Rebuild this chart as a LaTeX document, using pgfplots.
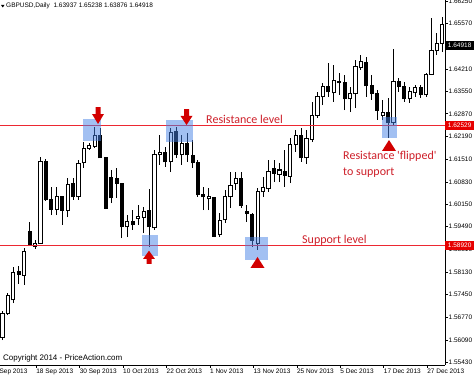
\documentclass[border=0pt]{standalone}
\usepackage{pgfplots}
\pgfplotsset{compat=1.18}
\usepackage{pgfplotstable}
\usepackage{fontspec}
\setmainfont{Liberation Sans}
\newfontfamily\annot{Carlito}
\definecolor{lvlred}{RGB}{236,40,50}
\definecolor{ann}{RGB}{205,30,40}
\definecolor{arr}{RGB}{210,0,0}
\definecolor{boxblue}{RGB}{70,130,230}
\definecolor{pricered}{RGB}{230,0,0}

% bullish candles: k open high low close
\pgfplotstableread{
k o h l c
0 1.56180 1.56959 1.56090 1.56899
1 1.56899 1.57499 1.56839 1.57409
2 1.57289 1.58278 1.57199 1.58128
4 1.58038 1.58847 1.57739 1.58728
6 1.58907 1.59087 1.58818 1.58997
7 1.58997 1.61575 1.58967 1.61425
10 1.60016 1.60676 1.59836 1.60376
12 1.59986 1.60945 1.59776 1.60765
14 1.60376 1.61485 1.60286 1.61365
15 1.61395 1.62024 1.61245 1.61844
16 1.61844 1.61994 1.61785 1.61934
17 1.61904 1.62474 1.61844 1.62204
23 1.59477 1.59836 1.59177 1.59627
25 1.59717 1.60136 1.59537 1.59806
26 1.59776 1.60076 1.59297 1.59956
28 1.59447 1.61785 1.59387 1.61635
29 1.61635 1.62234 1.61335 1.61695
31 1.61425 1.62444 1.61125 1.62294
33 1.61635 1.62234 1.61335 1.61994
38 1.60316 1.60646 1.59986 1.60376
40 1.59237 1.59896 1.59177 1.59657
41 1.59687 1.60586 1.59597 1.60376
42 1.60376 1.61125 1.60046 1.60735
43 1.60795 1.61125 1.60586 1.60945
47 1.58997 1.60646 1.58788 1.60526
48 1.60526 1.60975 1.60376 1.60646
49 1.60616 1.61485 1.60526 1.61155
51 1.61065 1.61395 1.60825 1.61185
53 1.61005 1.62144 1.60795 1.61964
54 1.61964 1.62384 1.61725 1.62204
56 1.61545 1.62384 1.61365 1.62144
57 1.62114 1.63223 1.62024 1.62833
58 1.62833 1.63523 1.62744 1.63373
59 1.63373 1.63793 1.63133 1.63673
61 1.63493 1.64332 1.63223 1.63882
64 1.63313 1.63673 1.62923 1.63463
65 1.63463 1.64482 1.63043 1.64272
66 1.64242 1.64632 1.64182 1.64422
70 1.62833 1.63283 1.62684 1.62923
72 1.62594 1.64812 1.62534 1.63852
75 1.63313 1.63673 1.63193 1.63523
76 1.63493 1.63733 1.63373 1.63643
78 1.63433 1.64092 1.63373 1.64062
79 1.64062 1.65741 1.64032 1.64752
80 1.64752 1.65291 1.64632 1.64991
81 1.64991 1.65771 1.64722 1.65531
}\bull

% bearish candles: k open high low close
\pgfplotstableread{
k o h l c
-1 1.57319 1.57379 1.56839 1.56899
3 1.58158 1.58308 1.57769 1.58068
5 1.59327 1.59627 1.58937 1.58937
8 1.61425 1.61515 1.60256 1.60286
9 1.60286 1.60676 1.59836 1.60016
11 1.60376 1.60376 1.59537 1.59986
13 1.60795 1.60945 1.60286 1.60376
18 1.62204 1.62444 1.61545 1.61545
19 1.61545 1.61575 1.60016 1.60046
20 1.60975 1.61185 1.60196 1.60346
21 1.60945 1.61245 1.60346 1.60795
22 1.60795 1.60795 1.59147 1.59477
24 1.59627 1.59986 1.59387 1.59537
27 1.59986 1.60616 1.58877 1.59477
30 1.61695 1.61874 1.61275 1.61425
32 1.62324 1.62474 1.61545 1.61635
34 1.61994 1.62294 1.61425 1.61635
35 1.61605 1.62084 1.61245 1.61395
36 1.61395 1.61485 1.60376 1.60436
37 1.60436 1.60676 1.59986 1.60376
39 1.60346 1.60376 1.59177 1.59207
44 1.60945 1.61125 1.60046 1.60136
45 1.59956 1.60136 1.59627 1.59896
46 1.59866 1.59896 1.58877 1.59087
50 1.61215 1.61485 1.60825 1.61095
52 1.61155 1.61785 1.60676 1.61035
55 1.62204 1.62444 1.61425 1.61545
60 1.63673 1.64392 1.63373 1.63523
62 1.63852 1.64092 1.63433 1.63793
63 1.63793 1.64032 1.62983 1.63313
67 1.64392 1.64572 1.63373 1.63703
68 1.63703 1.64032 1.63283 1.63463
69 1.63463 1.63583 1.62684 1.62983
71 1.62923 1.63343 1.62144 1.62594
73 1.63852 1.63942 1.63523 1.63673
74 1.63673 1.63823 1.63223 1.63313
77 1.63643 1.63733 1.63343 1.63433
}\bear

\begin{document}
\begin{tikzpicture}
\begin{axis}[
  name=ax,
  scale only axis, width=445pt, height=365pt,
  xmin=-0.46, xmax=81.49, ymin=1.55341, ymax=1.66280,
  axis x line*=bottom, axis y line*=right,
  axis line style={black, line width=0.8pt},
  tick align=outside, major tick length=3pt,
  tick style={black, line width=0.6pt},
  xtick={6.2,14.2,22.2,30.2,38.2,46.2,54.2,62.2,70.2,78.2},
  xticklabels={18 Sep 2013,30 Sep 2013,10 Oct 2013,22 Oct 2013,1 Nov 2013,13 Nov 2013,25 Nov 2013,5 Dec 2013,17 Dec 2013,27 Dec 2013},
  ytick={1.6625,1.6557,1.6489,1.6421,1.6355,1.6287,1.6219,1.6151,1.6083,1.6015,1.5949,1.5881,1.5813,1.5745,1.5677,1.5609,1.5543},
  yticklabels={1.66250,1.65570,{},1.64210,1.63550,1.62870,1.62190,1.61510,1.60830,1.60150,1.59490,1.58810,1.58130,1.57450,1.56770,1.56090,1.55430},
  tick label style={font=\fontsize{6.5}{7}\selectfont},
  xticklabel style={anchor=north west, inner sep=1pt, xshift=-1pt},
  yticklabel style={anchor=west, inner sep=0.5pt},
  /pgf/number format/assume math mode=true,
]
% wicks
\addplot[forget plot, draw=none, mark=none, error bars/.cd, y dir=plus, y explicit, error mark=none,
  error bar style={draw=black, solid, line width=1pt}]
  table[x=k, y=l, y error expr={\thisrow{h}-\thisrow{l}}] {\bull};
\addplot[forget plot, draw=none, mark=none, error bars/.cd, y dir=plus, y explicit, error mark=none,
  error bar style={draw=black, solid, line width=1pt}]
  table[x=k, y=l, y error expr={\thisrow{h}-\thisrow{l}}] {\bear};
% bear bodies
\addplot[forget plot, draw=none, mark=none, error bars/.cd, y dir=plus, y explicit, error mark=none,
  error bar style={draw=black, solid, line width=4pt}]
  table[x=k, y expr={\thisrow{c}-0.00015}, y error expr={\thisrow{o}-\thisrow{c}+0.0003}] {\bear};
% bull bodies
\addplot[forget plot, draw=none, mark=none, error bars/.cd, y dir=plus, y explicit, error mark=none,
  error bar style={draw=black, solid, line width=4.2pt}]
  table[x=k, y expr={\thisrow{o}-0.00015}, y error expr={\thisrow{c}-\thisrow{o}+0.0003}] {\bull};
\addplot[forget plot, draw=none, mark=none, error bars/.cd, y dir=plus, y explicit, error mark=none,
  error bar style={draw=white, solid, line width=2.2pt}]
  table[x=k, y expr={\thisrow{o}+0.00015}, y error expr={max(\thisrow{c}-\thisrow{o}-0.0003,0)}] {\bull};

% support / resistance levels
\addplot[draw=lvlred, solid, line width=1.1pt, mark=none, forget plot] coordinates {(-0.46,1.62529) (81.49,1.62529)};
\addplot[draw=lvlred, solid, line width=1.1pt, mark=none, forget plot] coordinates {(-0.46,1.58920) (81.49,1.58920)};

% highlight boxes
\fill[boxblue, fill opacity=0.5] (axis cs:14.82,1.62054) rectangle (axis cs:18.14,1.62714);
\fill[boxblue, fill opacity=0.5] (axis cs:30.11,1.62024) rectangle (axis cs:35.08,1.62684);
\fill[boxblue, fill opacity=0.5] (axis cs:25.70,1.58608) rectangle (axis cs:28.64,1.59237);
\fill[boxblue, fill opacity=0.5] (axis cs:44.66,1.58488) rectangle (axis cs:48.90,1.59177);
\fill[boxblue, fill opacity=0.5] (axis cs:69.89,1.62144) rectangle (axis cs:72.65,1.62773);

% arrows
\fill[arr] (axis cs:17.13,1.63073) -- (axis cs:18.05,1.63073) -- (axis cs:18.05,1.62863) -- (axis cs:18.69,1.62863)
  -- (axis cs:17.59,1.62564) -- (axis cs:16.49,1.62863) -- (axis cs:17.13,1.62863) -- cycle;
\fill[arr] (axis cs:33.43,1.63013) -- (axis cs:34.35,1.63013) -- (axis cs:34.35,1.62804) -- (axis cs:34.99,1.62804)
  -- (axis cs:33.89,1.62534) -- (axis cs:32.79,1.62804) -- (axis cs:33.43,1.62804) -- cycle;
\fill[arr] (axis cs:26.52,1.58368) -- (axis cs:27.44,1.58368) -- (axis cs:27.44,1.58518) -- (axis cs:28.08,1.58518)
  -- (axis cs:26.98,1.58767) -- (axis cs:25.88,1.58518) -- (axis cs:26.52,1.58518) -- cycle;
\fill[arr] (axis cs:45.67,1.58248) -- (axis cs:46.96,1.58578) -- (axis cs:48.25,1.58248) -- cycle;
\fill[arr] (axis cs:69.89,1.61755) -- (axis cs:71.18,1.62084) -- (axis cs:72.47,1.61755) -- cycle;

% annotation texts
\node[anchor=base west, inner sep=0pt, text=ann, font=\annot\fontsize{12}{14}\selectfont] at (axis cs:37.48,1.62564) {Resistance level};
\node[anchor=base west, inner sep=0pt, text=ann, font=\annot\fontsize{12}{14}\selectfont] at (axis cs:55.16,1.58997) {Support level};
\node[anchor=base west, inner sep=0pt, text=ann, font=\annot\fontsize{12}{14}\selectfont] at (axis cs:62.71,1.61485) {Resistance \textquotesingle flipped\textquotesingle};
\node[anchor=base west, inner sep=0pt, text=ann, font=\annot\fontsize{12}{14}\selectfont] at (axis cs:62.71,1.61035) {to support};

\coordinate (R1) at (axis cs:81.49,1.62529);
\coordinate (R2) at (axis cs:81.49,1.58920);
\coordinate (R3) at (axis cs:81.49,1.64918);
\end{axis}

% price boxes on the right scale
\node[fill=pricered, text=white, anchor=west, inner sep=0pt, minimum width=29pt, minimum height=9pt, font=\fontsize{6.5}{7}\selectfont] at (R1) {1.62529};
\node[fill=pricered, text=white, anchor=west, inner sep=0pt, minimum width=29pt, minimum height=9pt, font=\fontsize{6.5}{7}\selectfont] at (R2) {1.58920};
\node[fill=black, text=white, anchor=west, inner sep=0pt, minimum width=29pt, minimum height=9pt, font=\fontsize{6.5}{7}\selectfont] at (R3) {1.64918};

% header and footer texts
\fill[black] ([shift={(1pt,-5pt)}]ax.north west) -- ([shift={(4.5pt,-5pt)}]ax.north west) -- ([shift={(2.75pt,-7.5pt)}]ax.north west) -- cycle;
\node[anchor=west, inner sep=0pt, font=\fontsize{6.5}{7}\selectfont] at ([shift={(6pt,-6pt)}]ax.north west) {GBPUSD,Daily\ \ 1.63937 1.65238 1.63876 1.64918};
\node[anchor=west, inner sep=0pt, font=\fontsize{8}{9}\selectfont] at ([shift={(3pt,-358pt)}]ax.north west) {Copyright 2014 - PriceAction.com};
\node[anchor=north west, inner sep=1pt, font=\fontsize{6.5}{7}\selectfont] at ([shift={(-7pt,-3pt)}]ax.south west) {6 Sep 2013};

\pgfresetboundingbox
\useasboundingbox ([yshift=-12pt]ax.south west) rectangle ([xshift=29pt]ax.north east);
\end{tikzpicture}
\end{document}
